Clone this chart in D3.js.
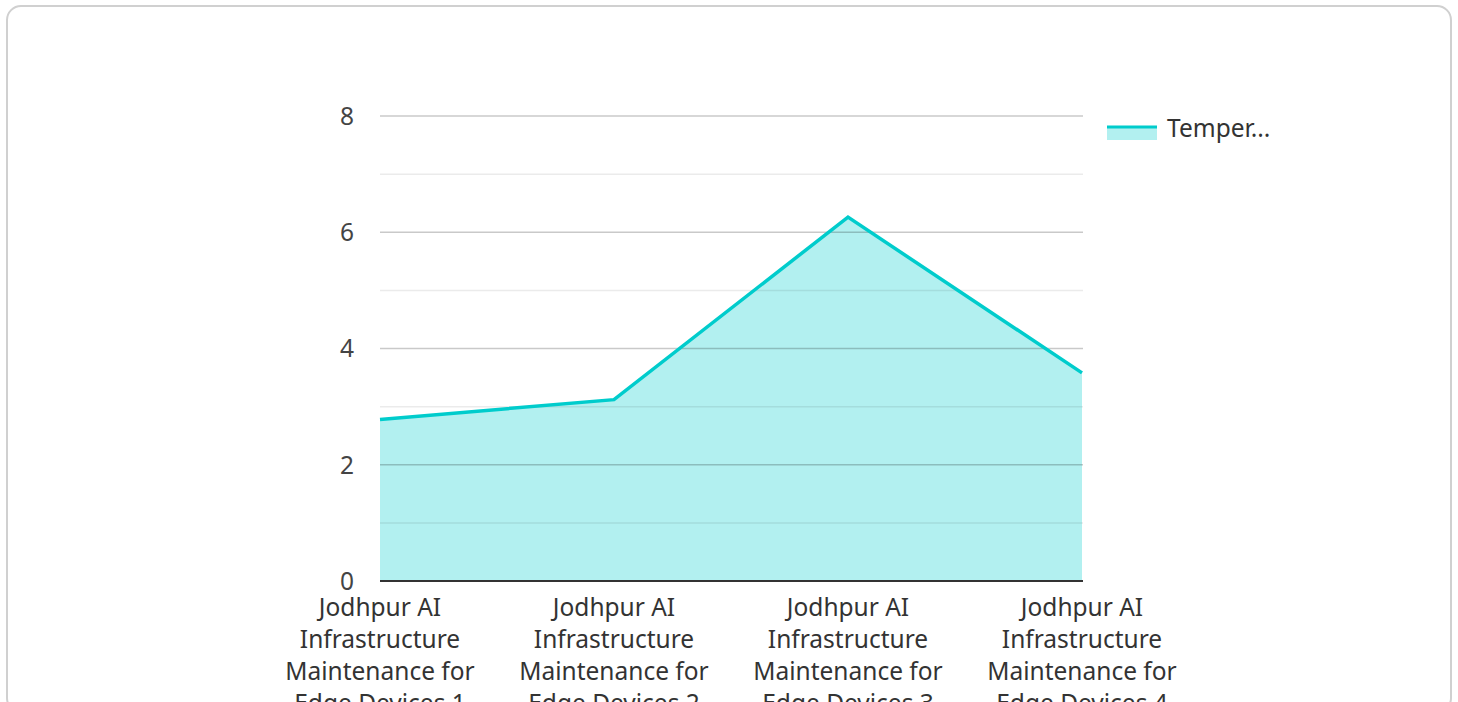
<!DOCTYPE html>
<html>
<head>
	<meta charset="utf-8">
	<title>Temperature area</title>
	<script src="https://d3js.org/d3.v7.min.js"></script>
	<style>
		body { margin: 0; background: #fff; font-family: "Noto Sans", sans-serif; }
	</style>
</head>
<body>
	<script type="text/javascript">
		var categories = [
			"Jodhpur AI Infrastructure Maintenance for Edge Devices 1",
			"Jodhpur AI Infrastructure Maintenance for Edge Devices 2",
			"Jodhpur AI Infrastructure Maintenance for Edge Devices 3",
			"Jodhpur AI Infrastructure Maintenance for Edge Devices 4"
		];
		var temperature = [2.78, 3.12, 6.26, 3.58];
		var seriesName = "Temperature";
		var yTicks = [0, 2, 4, 6, 8];
		var yMinor = [1, 3, 5, 7];

		var width = 1458, height = 702;
		var svg = d3.select("body").append("svg")
			.attr("width", width)
			.attr("height", height);

		// card frame
		svg.append("rect")
			.attr("x", 7).attr("y", 6)
			.attr("width", 1444).attr("height", 706)
			.attr("rx", 14)
			.attr("fill", "#fff")
			.attr("stroke", "#d0d0d0")
			.attr("stroke-width", 2);

		var plotLeft = 380, plotRight = 1082, plotTop = 116, plotBottom = 581;

		var x = d3.scalePoint().domain(categories).range([plotLeft, plotRight]);
		var y = d3.scaleLinear().domain([0, 8]).range([plotBottom, plotTop]);

		var teal = "#00cccc";

		// area
		var area = d3.area()
			.x(function(d, i) { return x(categories[i]); })
			.y0(y(0))
			.y1(function(d) { return y(d); });
		svg.append("path")
			.datum(temperature)
			.attr("d", area)
			.attr("fill", teal)
			.attr("fill-opacity", 0.3);

		// gridlines (drawn over the fill)
		svg.append("g").selectAll("line")
			.data(yMinor).enter().append("line")
			.attr("x1", plotLeft).attr("x2", plotRight + 1)
			.attr("y1", function(d) { return y(d); })
			.attr("y2", function(d) { return y(d); })
			.attr("stroke", "#000").attr("stroke-opacity", 0.08)
			.attr("stroke-width", 1.5);
		svg.append("g").selectAll("line")
			.data(yTicks.slice(1)).enter().append("line")
			.attr("x1", plotLeft).attr("x2", plotRight + 1)
			.attr("y1", function(d) { return y(d); })
			.attr("y2", function(d) { return y(d); })
			.attr("stroke", "#000").attr("stroke-opacity", 0.21)
			.attr("stroke-width", 1.5);

		// line
		var line = d3.line()
			.x(function(d, i) { return x(categories[i]); })
			.y(function(d) { return y(d); });
		svg.append("path")
			.datum(temperature)
			.attr("d", line)
			.attr("fill", "none")
			.attr("stroke", teal)
			.attr("stroke-width", 3.5);

		// baseline
		svg.append("line")
			.attr("x1", plotLeft).attr("x2", plotRight + 1)
			.attr("y1", y(0)).attr("y2", y(0))
			.attr("stroke", "#333").attr("stroke-width", 2);

		// y labels
		svg.append("g").selectAll("text")
			.data(yTicks).enter().append("text")
			.attr("x", 347)
			.attr("y", function(d) { return y(d); })
			.attr("dy", "0.36em")
			.attr("text-anchor", "middle")
			.attr("fill", "#444")
			.style("font-size", "24.5px")
			.text(function(d) { return d; });

		// x labels, wrapped
		var lines = ["Jodhpur AI", "Infrastructure", "Maintenance for"];
		svg.append("g").selectAll("text")
			.data(categories).enter().append("text")
			.attr("text-anchor", "middle")
			.attr("fill", "#333")
			.style("font-size", "24.5px")
			.each(function(d) {
				var t = d3.select(this);
				var parts = lines.concat([d.replace("Jodhpur AI Infrastructure Maintenance for ", "")]);
				parts.forEach(function(p, i) {
					t.append("tspan")
						.attr("x", x(d))
						.attr("y", 616 + i * 32)
						.text(p);
				});
			});

		// legend
		var lg = svg.append("g");
		lg.append("rect")
			.attr("x", 1107).attr("y", 126)
			.attr("width", 50).attr("height", 14)
			.attr("fill", teal).attr("fill-opacity", 0.3);
		lg.append("line")
			.attr("x1", 1107).attr("x2", 1157)
			.attr("y1", 127).attr("y2", 127)
			.attr("stroke", teal).attr("stroke-width", 3);
		lg.append("text")
			.attr("x", 1167).attr("y", 137)
			.attr("fill", "#333")
			.style("font-size", "24.5px")
			.text(seriesName.slice(0, 6) + "...");
	</script>
</body>
</html>
